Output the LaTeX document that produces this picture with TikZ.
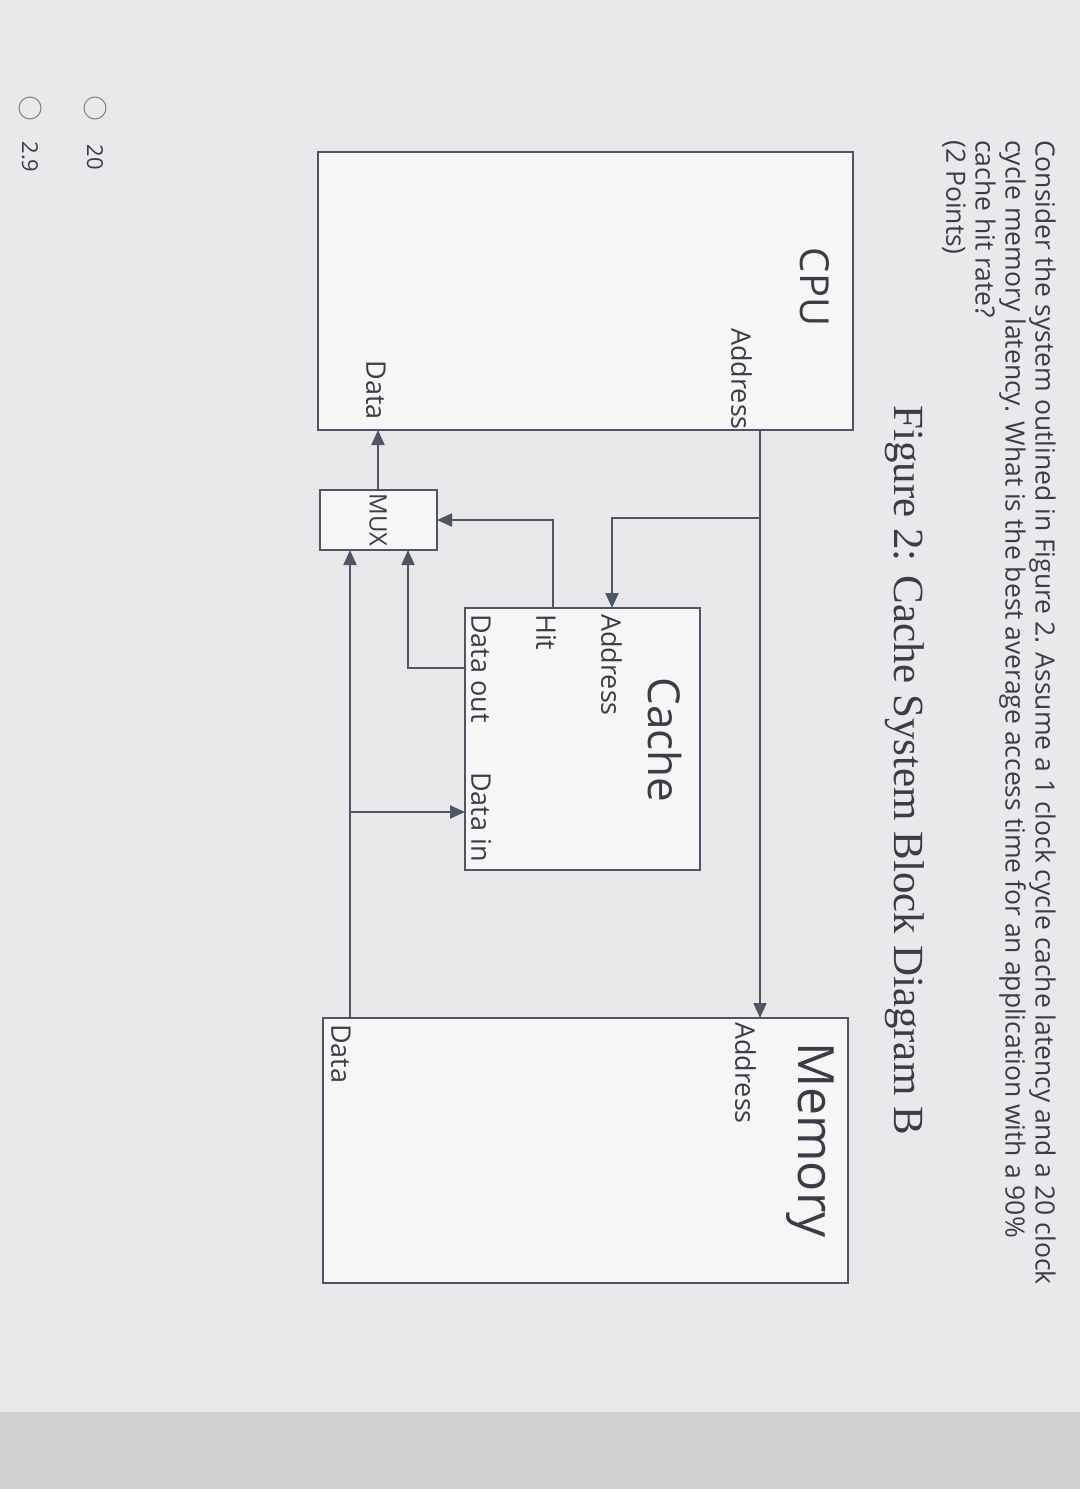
\documentclass[tikz,border=0pt]{standalone}
\usepackage{fontspec}
\setmainfont{Open Sans}
\newfontfamily\serifx{Liberation Serif}
\usetikzlibrary{arrows.meta}
\definecolor{bg}{HTML}{E9E9EB}
\definecolor{ln}{HTML}{4E5564}
\definecolor{tx}{HTML}{3A3D45}
\begin{document}
\begin{tikzpicture}[x=1pt,y=-1pt,
  blk/.style={draw=ln,line width=2.4pt,fill=white!60!bg},
  wire/.style={draw=ln,line width=2pt},
  arr/.style={wire,-{Triangle[length=15pt,width=13pt]}},
  rt/.style={rotate=-90,text=tx,inner sep=0pt},
  q/.style={rt,font=\fontsize{26.5}{30}\selectfont},
  lb/.style={rt,font=\fontsize{27}{30}\selectfont},
  big/.style={rt,font=\fontsize{40}{46}\selectfont}]
\fill[bg] (0,0) rectangle (1080,1489);
\fill[black!18] (0,1412) rectangle (1080,1489);
\useasboundingbox (0,0) rectangle (1080,1489);
% question
\node[q,anchor=north west] (q1) at (1056,140) {Consider the system outlined in Figure 2. Assume a 1 clock cycle cache latency and a 20 clock};
\node[q,anchor=north west] (q2) at (1026,140) {cycle memory latency. What is the best average access time for an application with a 90\%};
\node[q,anchor=north west] (q3) at (996,140) {cache hit rate?};
\node[q,anchor=north west] (q4) at (966,140) {(2 Points)};
% boxes
\draw[blk] (318,152) rectangle (853,430);
\draw[blk] (323,1018) rectangle (848,1283);
\draw[blk] (465,608) rectangle (700,870);
\draw[blk] (320,490) rectangle (437,550);
\node[big] (cpu) at (815,287) {CPU};
\node[lb,anchor=south east] (caddr) at (731,430) {Address};
\node[lb] (cdata) at (376,390) {Data};
\node[big,font=\fontsize{50}{56}\selectfont] (mem) at (810,1140) {Memory};
\node[lb,anchor=south west] (maddr) at (735,1022) {Address};
\node[lb,anchor=south west] (mdata) at (331,1024) {Data};
\node[big,font=\fontsize{44}{50}\selectfont] (cache) at (665,740) {Cache};
\node[lb,anchor=south west] (kaddr) at (601,614) {Address};
\node[lb,anchor=south west] (khit) at (536,614) {Hit};
\node[lb,anchor=south west] (kdout) at (471,614) {Data out};
\node[lb,anchor=south east] (kdin) at (471,862) {Data in};
\node[lb,font=\fontsize{24}{28}\selectfont] (mux) at (378,520) {MUX};
% wires
\coordinate (a0) at (760,430); \coordinate (a1) at (760,518);
\coordinate (a2) at (612,518); \coordinate (a3) at (612,608);
\coordinate (a4) at (760,1018);
\draw[wire] (a0) -- (a1);
\draw[arr] (a1) -- (a4);
\draw[arr] (a1) -- (a2) -- (a3);
\coordinate (h0) at (553,608); \coordinate (h1) at (553,520); \coordinate (h2) at (437,520);
\draw[arr] (h0) -- (h1) -- (h2);
\coordinate (d0) at (465,668); \coordinate (d1) at (408,668); \coordinate (d2) at (408,550);
\draw[arr] (d0) -- (d1) -- (d2);
\coordinate (m0) at (350,1018); \coordinate (m1) at (350,812); \coordinate (m2) at (350,550);
\coordinate (m3) at (465,812);
\draw[arr] (m0) -- (m2);
\draw[arr] (m1) -- (m3);
\coordinate (x0) at (378,490); \coordinate (x1) at (378,430);
\draw[arr] (x0) -- (x1);
\node[rt,font=\serifx\fontsize{43}{48}\selectfont] (cap) at (905,770) {Figure 2: Cache System Block Diagram B};
% options
\draw[gray,line width=1pt] (95,108) circle (11);
\node[lb,font=\fontsize{22}{26}\selectfont] (o1) at (95,157) {20};
\draw[gray,line width=1pt] (30,108) circle (11);
\node[lb,font=\fontsize{22}{26}\selectfont] (o2) at (30,157) {2.9};
\end{tikzpicture}
\end{document}
